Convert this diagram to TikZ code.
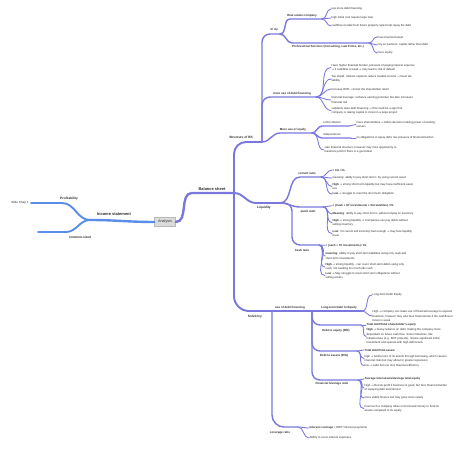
\documentclass[tikz,border=0pt]{standalone}
\usepackage{fontspec}
\setmainfont{Liberation Sans}
\newfontfamily\symfont{DejaVu Sans}
\newcommand\myarr{{\symfont →}}
\definecolor{br}{HTML}{7A78DE}
\definecolor{bl}{HTML}{5A8DE6}
\definecolor{tx}{HTML}{2A2A2A}
\tikzset{
 leaf/.style={anchor=west, align=left, font=\fontsize{2.85}{4.3}\selectfont, text=tx, inner sep=0.4pt},
 small/.style={font=\fontsize{2.8}{3.2}\selectfont, text=tx, inner sep=0.3pt},
 lab3/.style={font=\fontsize{2.95}{3.4}\selectfont\bfseries, text=tx, inner sep=0.3pt},
 lab2/.style={font=\fontsize{3.2}{3.6}\selectfont\bfseries, text=tx, inner sep=0.3pt},
 lab1/.style={font=\fontsize{4}{4.6}\selectfont\bfseries, text=tx, inner sep=0.3pt},
 w1/.style={draw=br, line width=2.4pt, line cap=round},
 w2/.style={draw=br, line width=1.9pt, line cap=round},
 w3/.style={draw=br, line width=1.4pt, line cap=round},
 w4/.style={draw=br, line width=0.85pt, line cap=round},
 lw1/.style={draw=bl, line width=2.4pt, line cap=round},
 lw2/.style={draw=bl, line width=1.9pt, line cap=round},
}
\begin{document}
\begin{tikzpicture}[x=1pt,y=1pt]
\useasboundingbox (0,0) rectangle (474,-449);
\fill[white] (0,0) rectangle (474,-449);

% root
\node[draw=gray!55, fill=gray!28, minimum width=21pt, minimum height=9pt, inner sep=0.5pt, font=\fontsize{3.7}{4}\selectfont, text=tx] (an) at (165,-222) {Analysis};

% left side
\coordinate (JI) at (90,-220);
\coordinate (p0) at (62,-203);
\coordinate (p1) at (31,-203);
\coordinate (c0) at (66,-232);
\coordinate (c1) at (38,-232);
\draw[lw1] (an.west) to[out=180,in=0] (JI);
\draw[lw2] (JI) to[out=180,in=0] (p0) -- (p1);
\draw[lw2] (JI) to[out=180,in=0] (c0) -- (c1);
\node[lab1] (is) at (114,-214) {Income statement};
\node[lab2] (pr) at (69,-198.5) {Profitability};
\node[lab2] (cs) at (80,-237) {common-sized};
\node[small, anchor=east, font=\fontsize{3}{3.5}\selectfont] (ch) at (29,-203) {Slide Chap 1};

% balance sheet
\coordinate (b0) at (192,-193);
\coordinate (JB) at (234,-193);
\draw[w1] (an.east) to[out=0,in=180] (b0) -- (JB);
\node[lab1] (bs) at (212,-189.5) {Balance sheet};

% structure of BS
\coordinate (JS) at (262,-142);
\draw[w2, rounded corners=12pt] (JB) |- (JS);
\node[lab2] (sb) at (241,-137.5) {Structure of BS};

% liquidity
\coordinate (l0) at (256,-203);
\coordinate (JL) at (280,-203);
\draw[w2] (JB) to[out=0,in=180] (l0) -- (JL);
\node[lab2] (lq) at (264,-208) {Liquidity};

% solvency
\coordinate (JSV) at (272,-311);
\draw[w2, rounded corners=15pt] (JB) |- (JSV);
\node[lab2] (sv) at (255,-317) {Solvency};

% ---- Vi du
\coordinate (JV) at (280,-34);
\draw[w3, rounded corners=8pt] (JS) |- (JV);
\node[lab3] (vd) at (274,-30) {Ví dụ};
\coordinate (re0) at (290,-19);
\coordinate (JR) at (322,-19);
\draw[w3] (JV) to[out=0,in=180] (re0) -- (JR);
\node[lab3] (re) at (302,-15.5) {Real estate company};
\node[leaf] (r1) at (331,-9) {use more debt financing};
\node[leaf] (r2) at (331,-18) {high initial cost require large loan};
\node[leaf] (r3) at (331,-26) {cashflow at stale from future property sales help repay the debt};
\foreach \n in {r1,r2,r3} \draw[w4] (JR) to[out=0,in=180] (\n.west);
\coordinate (ps0) at (292,-43);
\coordinate (JP) at (369,-43);
\draw[w3] (JV) to[out=0,in=180] (ps0) -- (JP);
\node[lab3] (ps) at (328,-47) {Professional Services (Consulting, Law Firms, etc.)};
\node[leaf] (q1) at (377,-37) {have low fixed asset};
\node[leaf] (q2) at (377,-45) {rely on partners' capital rather than debt};
\node[leaf] (q3) at (377,-53) {more equity};
\foreach \n in {q1,q2,q3} \draw[w4] (JP) to[out=0,in=180] (\n.west);

% ---- more use of debt financing
\coordinate (JD) at (316,-97);
\draw[w3, rounded corners=8pt] (JS) |- (JD);
\node[lab3] (md) at (292,-93.5) {more use of debt financing};
\node[leaf] (d1) at (331,-67.5) {Have higher financial burden, pressure of paying interest expense\\\myarr{} if cashflow is weak \myarr{} may lead to risk of default};
\node[leaf] (d2) at (331,-79) {Tax shield: interest expense reduce taxable income \myarr{} lower tax\\liability};
\node[leaf] (d3) at (331,-89) {Increase ROE \myarr{} boost the shareholder return};
\node[leaf] (d4) at (331,-100) {financial leverage: enhance earning potential, but also increases\\financial risk};
\node[leaf] (d5) at (331,-110.5) {suddenly raise debt financing \myarr{} this could be a sign that\\company is raising capital to invest in a large project};
\foreach \n in {d1,d2,d3,d4,d5} \draw[w4] (JD) to[out=0,in=180] (\n.west);

% ---- more use of equity
\coordinate (e0) at (280,-133);
\coordinate (JE) at (312,-133);
\draw[w3] (JS) to[out=0,in=180] (e0) -- (JE);
\node[lab3] (me) at (293,-129.5) {More use of equity};
\coordinate (cd0) at (322,-126);
\coordinate (JCD) at (349,-126);
\draw[w3] (JE) to[out=0,in=180] (cd0) -- (JCD);
\node[small] (cd) at (332,-122.5) {control dilution};
\node[leaf] (cdl) at (356,-124.5) {more shareholders \myarr{} Dilute decision making power of existing\\owners};
\draw[w4] (JCD) to[out=0,in=180] (cdl.west);
\coordinate (in0) at (322,-138);
\coordinate (JIN) at (351,-138);
\draw[w3] (JE) to[out=0,in=180] (in0) -- (JIN);
\node[small] (ind) at (332,-134.5) {independence};
\node[leaf] (inl) at (356,-138) {no obligations to repay debt, low pressure of financial burden};
\draw[w4] (JIN) -- (inl.west);
\node[leaf] (sf) at (324,-150) {safe financial structure, however may miss opportunity to\\maximize profit if there is a good deal};
\draw[w4] (JE) to[out=0,in=180] (sf.west);

% ---- current ratio
\coordinate (cr0) at (300,-177);
\coordinate (JC) at (321,-177);
\draw[w3] (JL) to[out=0,in=180] (cr0) -- (JC);
\node[lab3] (cr) at (307,-173) {current ratio};
\node[leaf] (c1n) at (332,-170) {\textbf{= CA / CL}};
\node[leaf] (c2n) at (332,-178) {meaning: ability to pay short term L by using current asset};
\node[leaf] (c3n) at (332,-186.5) {\textbf{High} \myarr{} strong short term liquidity but may have inefficient asset\\use};
\node[leaf] (c4n) at (332,-194) {\textbf{Low} \myarr{} struggle to meet the short term obligation};
\foreach \n in {c1n,c2n,c3n,c4n} \draw[w4] (JC) to[out=0,in=180] (\n.west);

% ---- quick ratio
\coordinate (qr0) at (300,-207);
\coordinate (JQ) at (323,-207);
\draw[w3] (JL) to[out=0,in=180] (qr0) -- (JQ);
\node[lab3] (qr) at (308,-211.5) {quick ratio};
\node[leaf] (k1) at (332,-205.7) {\textbf{= (Cash + ST investments + Receivables) / CL}};
\node[leaf] (k2) at (332,-214) {\textbf{Meaning}: ability to pay short-term L without relying on inventory};
\node[leaf] (k3) at (332,-222.5) {\textbf{High} \myarr{} strong liquidity \myarr{} Companies can pay debts without\\selling inventory};
\node[leaf] (k4) at (332,-233.5) {\textbf{Low}: if it cannot sell inventory fast enough \myarr{} may face liquidity\\issue};
\foreach \n in {k1,k2,k3,k4} \draw[w4] (JQ) to[out=0,in=180] (\n.west);

% ---- cash ratio
\coordinate (JK) at (319,-245);
\draw[w3, rounded corners=8pt] (JL) -- (292,-203) -- (292,-245) -- (JK);
\node[lab3] (kr) at (302,-250) {Cash ratio};
\node[leaf] (h1) at (325,-245.3) {\textbf{= (cash + ST investments) / CL}};
\node[leaf] (h2) at (325,-256) {\textbf{meaning}: ability to pay short-term liabilities using only cash and\\short-term investments};
\node[leaf] (h3) at (325,-267) {\textbf{High} \myarr{} strong liquidity - can cover short-term debts using only\\cash, not needing too much idle cash};
\node[leaf] (h4) at (325,-275.5) {\textbf{Low} \myarr{} May struggle to meet short-term obligations without\\selling assets};
\foreach \n in {h1,h2,h3,h4} \draw[w4] (JK) to[out=0,in=180] (\n.west);

% ---- solvency: use of debt financing
\coordinate (JU) at (312,-311);
\draw[w3] (JSV) -- (JU);
\node[lab3] (ud) at (290,-307.5) {use of debt financing};
\coordinate (JLT) at (362,-311);
\draw[w3] (JU) -- (JLT);
\node[lab3] (lt) at (339,-307.5) {Long-term Debt to Equity};
\node[leaf] (t1) at (372,-295) {Long-term Debt/ Equity};
\node[leaf] (t2) at (372,-316) {High \myarr{} company can make use of financial leverage to expand\\business, however they also face financial risk if the cashflow in\\future is weak};
\foreach \n in {t1,t2} \draw[w4] (JLT) to[out=0,in=180] (\n.west);

\coordinate (JDE) at (361,-325);
\draw[w3, rounded corners=8pt] (JU) |- (JDE);
\node[lab3] (de) at (336,-331) {Debt to equity (D/E)};
\node[leaf] (e1) at (366,-325) {\textbf{Total debt/Total shareholder's equity}};
\node[leaf] (e2) at (366,-336.5) {\textbf{High} \myarr{} heavy reliance on debt, making the company more\\dependent on future cash flow. Some industries, like\\infrastructure (e.g. BOT projects), require significant initial\\investment and operate with high debt levels};
\foreach \n in {e1,e2} \draw[w4] (JDE) to[out=0,in=180] (\n.west);

\coordinate (JDA) at (357,-351);
\draw[w3, rounded corners=8pt] (JU) |- (JDA);
\node[lab3] (da) at (334,-356) {Debt to assets (D/A)};
\node[leaf] (a1) at (364,-350) {\textbf{Total debt/Total assets}};
\node[leaf] (a2) at (364,-358.5) {high \myarr{} funds more of its assets through borrowing, which causes\\financial risks but may allow for greater expansion};
\node[leaf] (a3) at (364,-365.5) {low \myarr{} safer but use less financial efficiency};
\foreach \n in {a1,a2,a3} \draw[w4] (JDA) to[out=0,in=180] (\n.west);

\coordinate (JFL) at (358,-380);
\draw[w3, rounded corners=8pt] (JU) |- (JFL);
\node[lab3] (fl) at (332,-384) {Financial leverage ratio};
\node[leaf] (f1) at (364,-379) {\textbf{Average total assets/Average total equity}};
\node[leaf] (f2) at (364,-388) {High \myarr{} Boosts profit if business is good, but face financial burden\\of repaying debt and interest};
\node[leaf] (f3) at (364,-398) {more stable finance but may grow more slowly};
\node[leaf] (f4) at (364,-408.5) {how much a company relies on borrowed money to fund its\\assets compared to its equity};
\foreach \n in {f1,f2,f3,f4} \draw[w4] (JFL) to[out=0,in=180] (\n.west);

% ---- coverage ratio
\coordinate (JCV) at (298,-427);
\draw[w3, rounded corners=12pt] (JSV) |- (JCV);
\node[lab3] (cv) at (280,-432.5) {coverage ratio};
\node[leaf] (v1) at (309,-428) {\textbf{Interest coverage} = EBIT/ Interest payments};
\node[leaf] (v2) at (309,-438) {Ability to cover interest expenses};
\foreach \n in {v1,v2} \draw[w4] (JCV) to[out=0,in=180] (\n.west);
\end{tikzpicture}
\end{document}
